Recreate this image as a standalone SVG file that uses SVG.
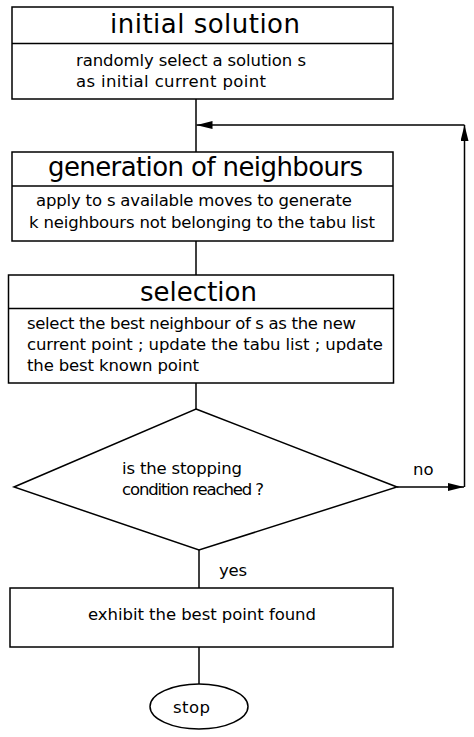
<svg xmlns="http://www.w3.org/2000/svg" width="474" height="737" viewBox="0 0 474 737">
<defs>
<style>
.box{fill:#fff;stroke:#000;stroke-width:1.5}
.ln{fill:none;stroke:#000;stroke-width:1.5}
.t{font-family:"DejaVu Sans","Liberation Sans",Arial,sans-serif;fill:#000}
.h{font-size:26px}
.b{font-size:16.5px}
</style>
<marker id="ah" viewBox="0 0 16 8" refX="16" refY="4" markerWidth="16" markerHeight="8" markerUnits="userSpaceOnUse" orient="auto">
<path d="M0,0 L16,4 L0,8 Z" fill="#000"/>
</marker>
</defs>
<rect width="474" height="737" fill="#fff"/>
<g id="connectors">
<line class="ln" x1="196" y1="99" x2="196" y2="152"/>
<line class="ln" x1="196" y1="241" x2="196" y2="275"/>
<line class="ln" x1="196" y1="383" x2="196" y2="409"/>
<line class="ln" x1="199" y1="550" x2="199" y2="588"/>
<line class="ln" x1="199" y1="647" x2="199" y2="684"/>
<line class="ln" x1="397" y1="487" x2="464" y2="487" marker-end="url(#ah)"/>
<line class="ln" x1="464.5" y1="487" x2="464.5" y2="125" marker-end="url(#ah)"/>
<line class="ln" x1="464.5" y1="125" x2="196.5" y2="125" marker-end="url(#ah)"/>
<text class="t b" x="413" y="475">no</text>
<text class="t b" x="219" y="576" textLength="28" lengthAdjust="spacing">yes</text>
</g>
<g id="initial">
<rect class="box" x="12" y="7" width="381" height="92"/>
<line class="ln" x1="12" y1="43.5" x2="393" y2="43.5"/>
<text class="t h" x="110" y="33" textLength="190" lengthAdjust="spacing">initial  solution</text>
<text class="t b" x="76" y="66" textLength="230" lengthAdjust="spacing">randomly select a solution s</text>
<text class="t b" x="76" y="87" textLength="190" lengthAdjust="spacing">as initial current point</text>
</g>
<g id="generation">
<rect class="box" x="12" y="152" width="381" height="89"/>
<line class="ln" x1="12" y1="186" x2="393" y2="186"/>
<text class="t h" x="48" y="176" textLength="315" lengthAdjust="spacing">generation  of  neighbours</text>
<text class="t b" x="36" y="206" textLength="316" lengthAdjust="spacing">apply to s available moves to generate</text>
<text class="t b" x="29" y="228" textLength="346" lengthAdjust="spacing">k neighbours not belonging to the tabu list</text>
</g>
<g id="selection">
<rect class="box" x="8.5" y="275" width="385" height="108"/>
<line class="ln" x1="8.5" y1="308.5" x2="393.5" y2="308.5"/>
<text class="t h" x="140" y="301" textLength="117" lengthAdjust="spacing">selection</text>
<text class="t b" x="27" y="329" textLength="329" lengthAdjust="spacing">select the best neighbour of s as the new</text>
<text class="t b" x="27" y="350" textLength="356" lengthAdjust="spacing">current point ; update the tabu list ; update</text>
<text class="t b" x="27" y="370.5" textLength="172" lengthAdjust="spacing">the best known point</text>
</g>
<g id="decision">
<polygon class="box" points="196,409 397,487 199,550 14,487"/>
<text class="t b" x="122" y="474" textLength="120" lengthAdjust="spacing">is the stopping</text>
<text class="t b" x="122" y="495" textLength="142" lengthAdjust="spacing">condition reached ?</text>
</g>
<g id="exhibit">
<rect class="box" x="10" y="588" width="383" height="59"/>
<text class="t b" x="88" y="620" textLength="228" lengthAdjust="spacing">exhibit the best point found</text>
</g>
<g id="stop">
<ellipse class="box" cx="199" cy="706.5" rx="49" ry="22.5"/>
<text class="t b" x="173" y="713" textLength="37" lengthAdjust="spacing">stop</text>
</g>
</svg>
